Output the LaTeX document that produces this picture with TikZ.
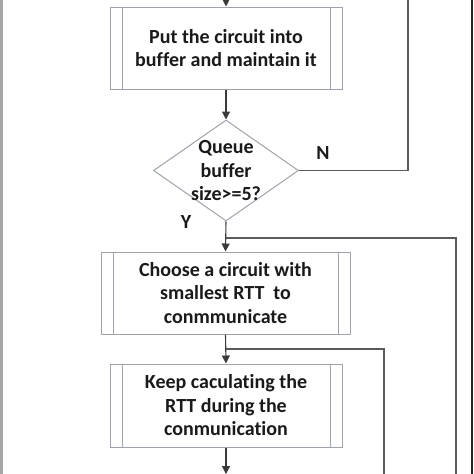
\documentclass[tikz,border=0pt]{standalone}
\usepackage{fontspec}
\setmainfont[Ligatures=NoCommon]{Carlito}
\usetikzlibrary{arrows.meta,shapes.geometric}
\definecolor{boxgray}{HTML}{9EA3AC}
\definecolor{linegray}{HTML}{3A3A3A}
\definecolor{loopgray}{HTML}{5A5A5A}
\definecolor{txt}{HTML}{1A1A1A}
\tikzset{
  proc/.style={draw=boxgray, line width=1pt, rectangle, inner sep=0pt,
    minimum width=#1, align=center, font=\fontsize{20}{23.5}\selectfont\bfseries, text=txt,
    path picture={
      \draw[boxgray, line width=0.9pt] ([xshift=12pt]path picture bounding box.north west) -- ([xshift=12pt]path picture bounding box.south west);
      \draw[boxgray, line width=0.9pt] ([xshift=-12pt]path picture bounding box.north east) -- ([xshift=-12pt]path picture bounding box.south east);
    }},
  dec/.style={draw=boxgray, line width=1pt, diamond, inner sep=0pt, minimum width=145pt, minimum height=101pt},
  lbl/.style={font=\fontsize{20}{23.5}\selectfont\bfseries, text=txt, align=center},
  conn/.style={draw=linegray, line width=1.1pt},
  loop/.style={draw=loopgray, line width=1.1pt},
  arr/.style={conn, -{Triangle[length=8pt,width=8pt]}},
}
\begin{document}
\begin{tikzpicture}[x=1pt,y=-1pt]
\useasboundingbox (0,0) rectangle (474,474);
\fill[white] (0,0) rectangle (474,474);
\fill[gray!70] (0,0) rectangle (2.5,474);
\fill[black!85] (470.5,0) rectangle (473,474);

\node[proc=232pt, minimum height=82pt] (b1) at (226,48) {Put the circuit into\\buffer and maintain it};
\node[dec] (dia) at (226,170.5) {};
\node[lbl] (dt) at (226,171) {Queue\\buffer\\size>=5?};
\node[proc=249pt, minimum height=82pt] (b2) at (225.5,293) {Choose a circuit with\\smallest RTT~ to\\conmmunicate};
\node[proc=232pt, minimum height=83pt] (b3) at (226,405.5) {Keep caculating the\\RTT during the\\conmunication};

\node[lbl] (n) at (323,153) {N};
\node[lbl] (y) at (186,222) {Y};

\coordinate (top) at (226,0);
\coordinate (ntop) at (408,0);
\coordinate (r1) at (456,474);
\coordinate (j1) at (226,238);
\coordinate (r2) at (384,474);
\coordinate (j2) at (226,349);
\coordinate (bot) at (226,474);

\draw[arr] (top) -- (b1.north);
\draw[arr] (b1.south) -- (dia.north);
\draw[loop] (dia.east) -| (ntop);
\draw[arr] (dia.south) -- (b2.north);
\draw[loop] (r1) |- (j1);
\draw[arr] (b2.south) -- (b3.north);
\draw[loop] (r2) |- (j2);
\draw[arr] (b3.south) -- (bot);
\end{tikzpicture}
\end{document}
